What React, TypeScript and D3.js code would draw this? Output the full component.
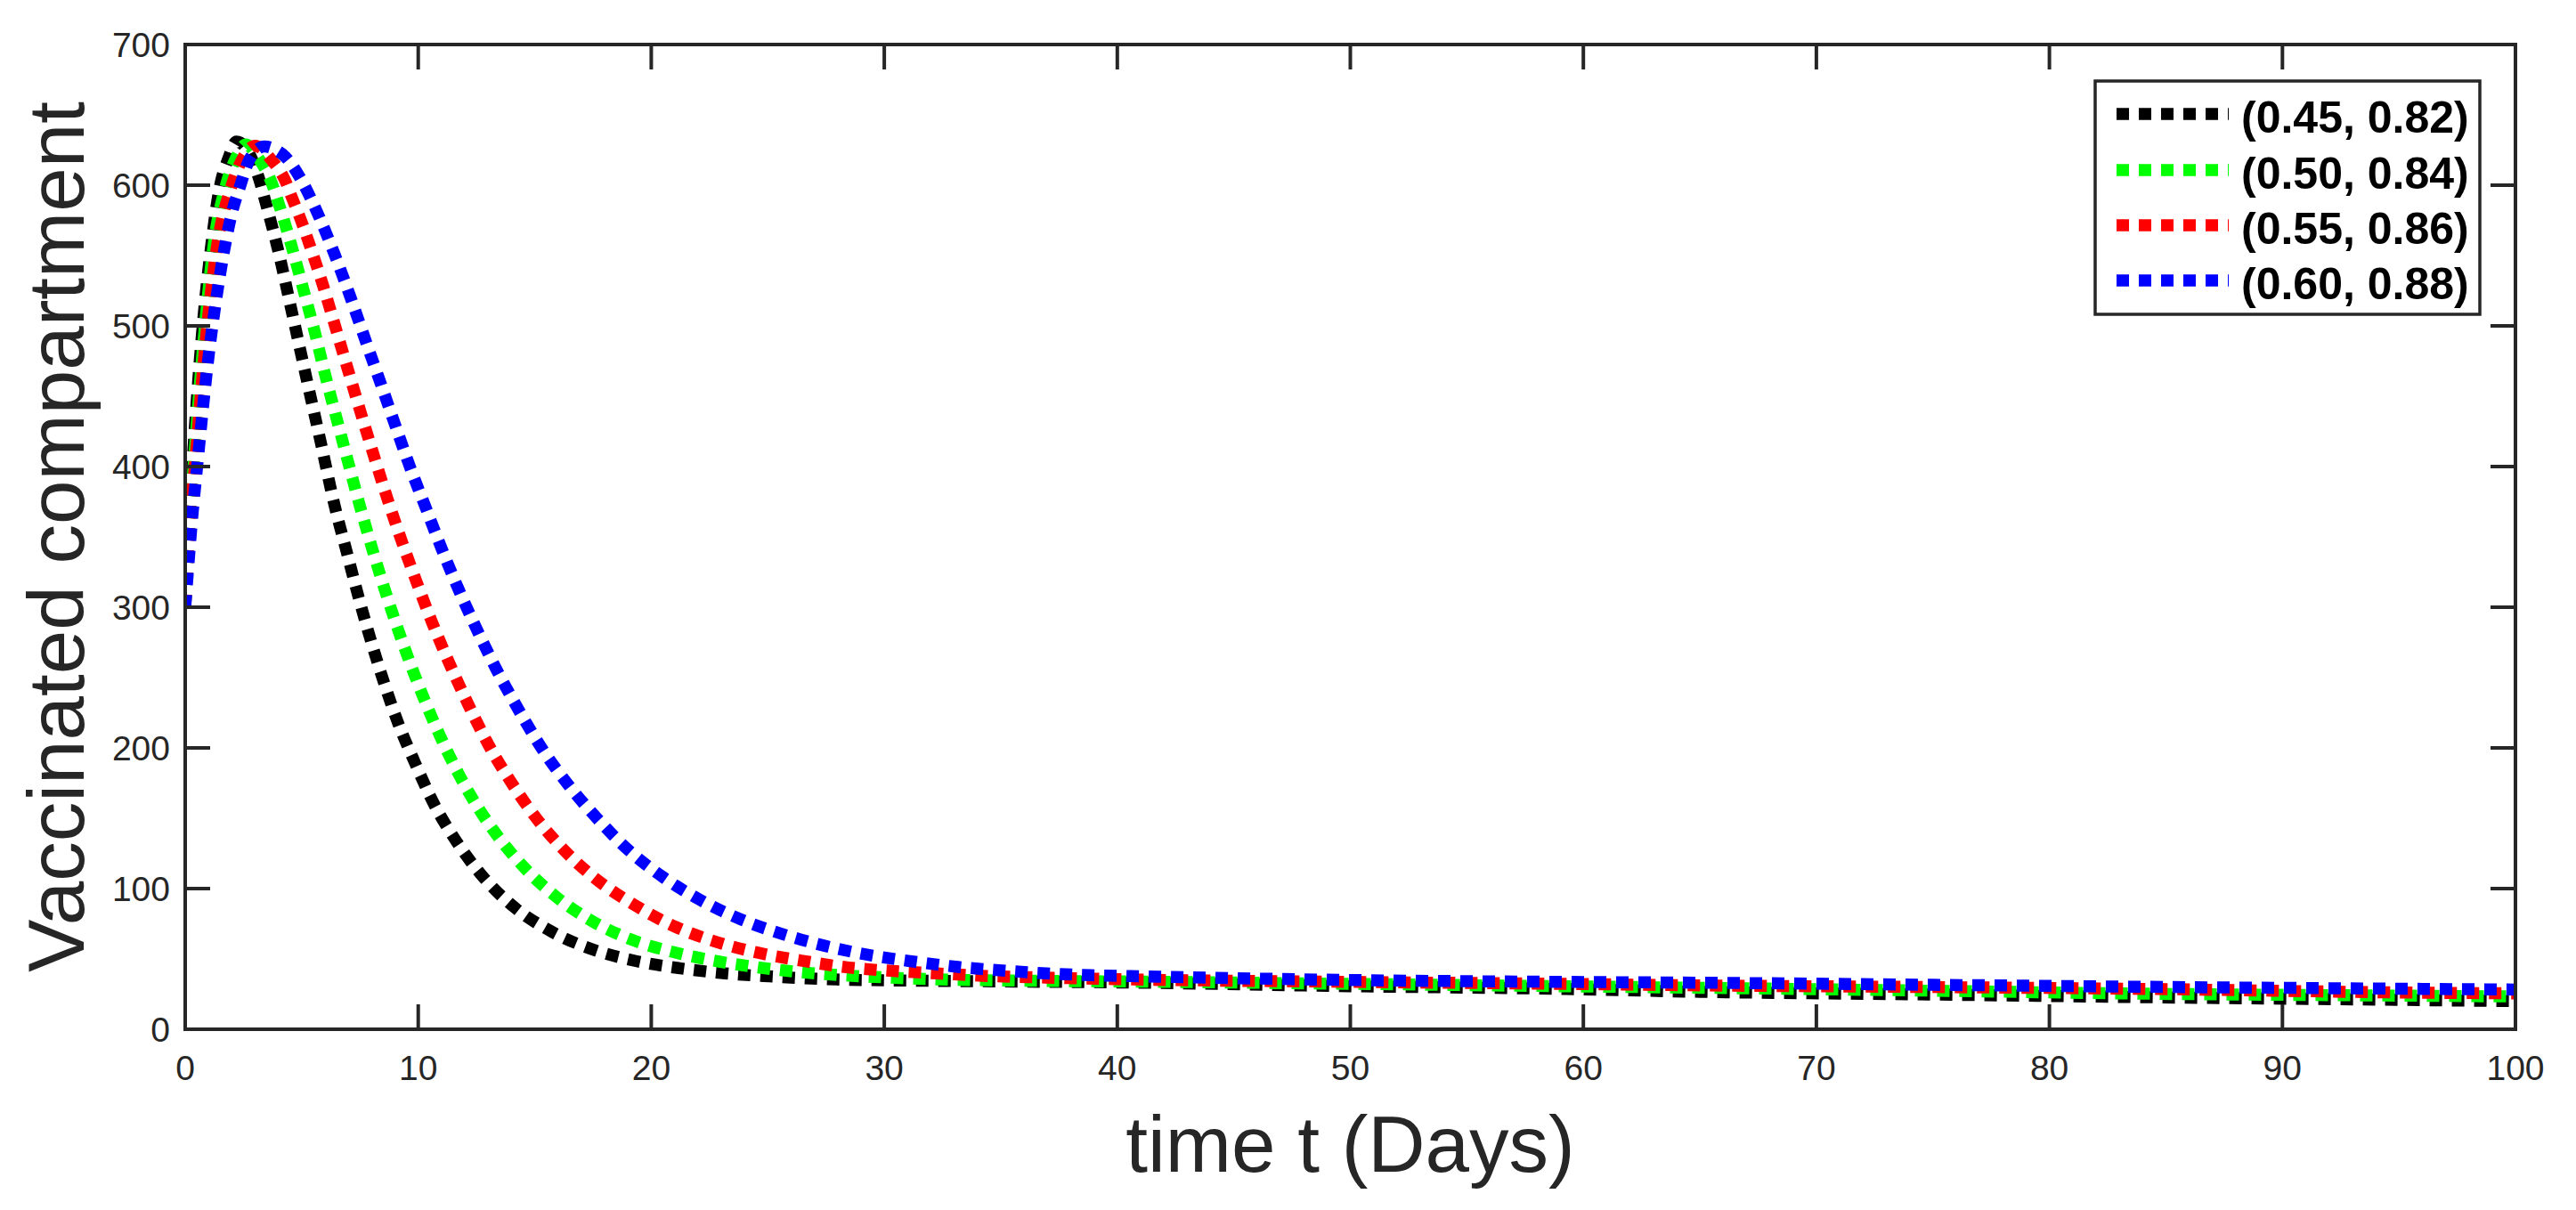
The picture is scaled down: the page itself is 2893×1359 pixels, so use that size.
import React, { useEffect } from "react";
import * as d3 from "d3";

// ---------- data ----------
const seriesLabels = ["(0.45, 0.82)", "(0.50, 0.84)", "(0.55, 0.86)", "(0.60, 0.88)"];
const seriesColors = ["#000000", "#00ff00", "#ff0000", "#0000ff"];

const tBlack = [0, 0.15, 0.3, 0.8, 1.1, 1.5, 1.85, 2.2, 2.7, 3.18, 3.48, 3.97, 4.59, 5.2, 5.82, 6.43, 6.92, 7.41, 7.92, 8.5, 9.13, 9.87, 10.68, 11.66, 12.8, 14.18, 15.77, 17.54, 19.36, 21.26, 23.17, 25.06, 27.93, 30, 35, 40, 50, 59, 65, 75, 84, 96, 100];
const vBlack = [300, 355, 398, 509, 555, 600, 619, 631, 624, 604, 586, 555, 509, 463, 417, 371, 340, 309, 279, 248, 218, 189, 160, 133, 108, 86, 69, 56.4, 48.4, 43.3, 39.7, 37.6, 35.4, 34.8, 34, 33.3, 30.6, 28.7, 26.6, 24.7, 22.8, 20.7, 20];

const tGreen = [0, 0.15, 0.35, 0.9, 1.2, 1.75, 2.2, 2.6, 3.15, 3.69, 4.01, 4.56, 5.07, 5.57, 6.01, 6.5, 6.98, 7.48, 8.0, 8.56, 9.17, 9.83, 10.55, 11.34, 12.23, 13.29, 14.52, 15.9, 17.48, 19.2, 21.06, 22.92, 24.81, 26.72, 28.61, 30.52, 32.43, 35, 40, 50, 59, 65, 75, 84, 96, 100];
const vGreen = [300, 350, 398, 509, 555, 600, 620, 629, 619, 602.5, 587, 557, 526, 495, 465, 434, 404, 373, 343, 312.7, 282.4, 252.5, 223, 194.3, 166.7, 140, 115.5, 94.4, 76.7, 63.4, 54.4, 48.1, 43.5, 40.1, 38, 36.5, 35.4, 34.7, 34, 32.3, 30.6, 29.5, 27.4, 25.3, 23.8, 23.3];

const tRed = [0, 0.15, 0.4, 1.0, 1.35, 2.0, 2.5, 3.0, 3.7, 4.27, 4.62, 4.97, 5.29, 5.89, 6.43, 6.98, 7.52, 8.09, 8.66, 9.27, 9.91, 10.6, 11.34, 12.13, 12.99, 13.97, 15.07, 16.34, 17.77, 19.32, 21.04, 22.85, 24.7, 26.56, 28.47, 30.38, 32.28, 34.19, 36.1, 38.0, 40, 50, 59, 65, 75, 84, 96, 100];
const vRed = [300, 348, 398, 509, 555, 600, 620, 628, 618, 604, 589.5, 575, 560, 530, 500, 469, 439, 408, 378, 348, 318.8, 289, 260, 231.5, 203, 176, 150, 126, 105, 88, 72.8, 61.8, 54, 48.5, 43.9, 41.4, 39.7, 38, 37.1, 36.3, 35.6, 33.7, 32.3, 31.2, 30, 28.7, 26, 25.5];

const tBlue = [0, 0.1, 0.28, 0.5, 1.0, 1.5, 2.0, 2.37, 2.78, 3.4, 3.9, 4.31, 4.87, 5.71, 6.43, 7.1, 7.73, 8.37, 9.0, 9.64, 10.34, 11.02, 11.75, 12.55, 13.38, 14.31, 15.29, 16.43, 17.67, 18.98, 20.52, 22.11, 23.86, 25.66, 27.5, 29.35, 31.26, 33.16, 35.06, 36.97, 38.88, 40, 50, 59, 65, 75, 84, 96, 100];
const vBlue = [300, 322, 360, 398, 478, 537, 580, 600, 619, 627.5, 625, 620, 607, 579, 550, 520, 490, 460, 430, 400, 370, 341, 312, 283, 255, 227, 200, 174, 150, 128, 108, 91.8, 78, 67.5, 59.1, 52.8, 48.1, 44.3, 41.8, 39.7, 38.4, 38, 35, 33.7, 33.1, 31.6, 30.2, 28.7, 28.2];

const xTicks = [0, 10, 20, 30, 40, 50, 60, 70, 80, 90, 100];
const yTicks = [0, 100, 200, 300, 400, 500, 600, 700];
const xLabel = "time t (Days)";
const yLabel = "Vaccinated compartment";

const seriesT = [tBlack, tGreen, tRed, tBlue];
const seriesV = [vBlack, vGreen, vRed, vBlue];

// ---------- layout ----------
const W = 2893;
const H = 1359;
const M = { left: 208, right: 2825, top: 50, bottom: 1156 };
const AXIS = "#262626";
const FONT = "'Liberation Sans', Arial, Helvetica, sans-serif";

export default function App() {
  useEffect(() => {
    document.body.style.margin = "0";
  }, []);

  const x = d3.scaleLinear().domain([0, 100]).range([M.left, M.right]);
  const y = d3.scaleLinear().domain([0, 700]).range([M.bottom, M.top]);

  const line = d3
    .line<[number, number]>()
    .x((d) => x(d[0]))
    .y((d) => y(d[1]))
    .curve(d3.curveMonotoneX);

  const tickLen = 28;
  const lw = 13.5;
  const dash = "14 11";

  const legend = { x0: 2353, x1: 2785, y0: 91, y1: 353 };
  const rowY = [128, 191, 253, 315];

  return (
    <svg width={W} height={H} style={{ display: "block", background: "#fff" }}>
      <rect x={0} y={0} width={W} height={H} fill="#fff" />
      <defs>
        <clipPath id="plotclip">
          <rect x={M.left} y={M.top} width={M.right - M.left} height={M.bottom - M.top} />
        </clipPath>
      </defs>

      {/* series */}
      <g clipPath="url(#plotclip)">
        {seriesT.map((ts, i) => {
          const pts = ts.map((t, j) => [t, seriesV[i][j]] as [number, number]);
          return (
            <path
              key={i}
              d={line(pts) || ""}
              fill="none"
              stroke={seriesColors[i]}
              strokeWidth={lw}
              strokeDasharray={dash}
              strokeLinecap="butt"
              strokeLinejoin="miter"
            />
          );
        })}
      </g>

      {/* ticks */}
      <g stroke={AXIS} strokeWidth={4}>
        {xTicks.map((t) => (
          <g key={"xt" + t}>
            <line x1={x(t)} x2={x(t)} y1={M.bottom} y2={M.bottom - tickLen} />
            <line x1={x(t)} x2={x(t)} y1={M.top} y2={M.top + tickLen} />
          </g>
        ))}
        {yTicks.map((v) => (
          <g key={"yt" + v}>
            <line x1={M.left} x2={M.left + tickLen} y1={y(v)} y2={y(v)} />
            <line x1={M.right} x2={M.right - tickLen} y1={y(v)} y2={y(v)} />
          </g>
        ))}
      </g>

      {/* box */}
      <rect
        x={M.left}
        y={M.top}
        width={M.right - M.left}
        height={M.bottom - M.top}
        fill="none"
        stroke={AXIS}
        strokeWidth={4}
      />

      {/* tick labels */}
      <g fill={AXIS} fontFamily={FONT} fontSize={39}>
        {xTicks.map((t) => (
          <text key={"xl" + t} x={x(t)} y={1213} textAnchor="middle">
            {t}
          </text>
        ))}
        {yTicks.map((v) => (
          <text key={"yl" + v} x={191} y={y(v) + 14} textAnchor="end">
            {v}
          </text>
        ))}
      </g>

      {/* axis labels */}
      <text
        x={(M.left + M.right) / 2}
        y={1316}
        textAnchor="middle"
        fontFamily={FONT}
        fontSize={89}
        fill={AXIS}
      >
        {xLabel}
      </text>
      <text
        transform={`translate(94, ${(M.top + M.bottom) / 2}) rotate(-90)`}
        textAnchor="middle"
        fontFamily={FONT}
        fontSize={89}
        fill={AXIS}
      >
        {yLabel}
      </text>

      {/* legend */}
      <rect
        x={legend.x0}
        y={legend.y0}
        width={legend.x1 - legend.x0}
        height={legend.y1 - legend.y0}
        fill="#fff"
        stroke={AXIS}
        strokeWidth={3.5}
      />
      {seriesLabels.map((lab, i) => (
        <g key={"lg" + i}>
          <line
            x1={2377}
            x2={2503}
            y1={rowY[i]}
            y2={rowY[i]}
            stroke={seriesColors[i]}
            strokeWidth={lw}
            strokeDasharray={dash}
            strokeLinecap="butt"
          />
          <text
            x={2517}
            y={rowY[i] + 21}
            fontFamily={FONT}
            fontWeight="bold"
            fontSize={50}
            fill="#000"
          >
            {lab}
          </text>
        </g>
      ))}
    </svg>
  );
}
